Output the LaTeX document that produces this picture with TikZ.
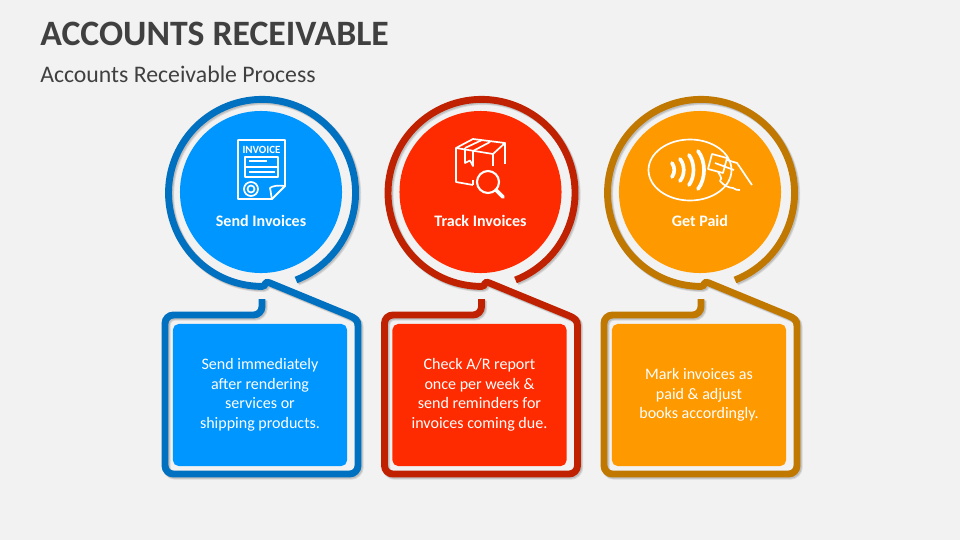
\documentclass[tikz,border=0pt]{standalone}
\usepackage{fontspec}
\setmainfont{Carlito}
\definecolor{pagegray}{HTML}{F2F2F2}
\definecolor{inkgray}{HTML}{404040}
\definecolor{blueface}{HTML}{0096FF}
\definecolor{blueline}{HTML}{0070C0}
\definecolor{redface}{HTML}{FF2B00}
\definecolor{redline}{HTML}{C02100}
\definecolor{orangeface}{HTML}{FF9900}
\definecolor{orangeline}{HTML}{C07800}
\begin{document}
\begin{tikzpicture}
[x=0.025cm,y=-0.025cm,
  discdecorate/.style={shape=circle,inner sep=0pt,minimum size=4.05cm},%
  cardecorate/.style={shape=rectangle,rounded corners=4pt,inner sep=0pt,minimum width=4.35cm,
    minimum height=3.55cm,align=center,text=white,font=\fontsize{11.4pt}{13.9pt}\selectfont},%
  namedecorate/.style={text=white,inner sep=0pt,font=\fontsize{11.4pt}{13pt}\selectfont\bfseries},%
  ringdecorate/.style={line width=4.9pt,
    preaction={draw=black,opacity=0.10,line width=5.6pt,transform canvas={shift={(1.2pt,-1.2pt)}}},
    preaction={draw=black,opacity=0.12,line width=4.9pt,transform canvas={shift={(0.9pt,-0.9pt)}}}},%
  icondecorate/.style={draw=white,line width=1.2pt,line join=round},%
  iconthick/.style={draw=white,line width=2.6pt,line cap=round}]
%%% page and headings
\useasboundingbox [fill=pagegray] (0,0) rectangle (960,540);
\node (title) at (40,34) [anchor=west,inner sep=0pt,text=inkgray,font=\fontsize{25.4pt}{28pt}\selectfont\bfseries] {ACCOUNTS RECEIVABLE};
\node (subtitle) at (40,74) [anchor=west,inner sep=0pt,text=inkgray,font=\fontsize{16.9pt}{20pt}\selectfont] {Accounts Receivable Process};
%
%%% send invoices
% outline
\draw[ringdecorate,draw=blueline] (296,280) arc[start angle=68.7,end angle=-270,radius=93.5]
  .. controls (266.5,286.5) and (263.5,280.5) .. (270,283) -- (349,315.5)
  .. controls (355,318) and (358,320) .. (358,326)
  [rounded corners=6pt] -- (358,474) -- (165,474) -- (165,315) -- (262,315) [sharp corners] -- (262,299);
% disc and card
\node (disca) at (261,192) [discdecorate,fill=blueface] {};
\node (carda) at (260,395) [cardecorate,fill=blueface] {Send immediately\\after rendering\\services or\\shipping products.};
\node (namea) at (261,221) [namedecorate] {Send Invoices};
% icon
\draw[icondecorate,line width=1.4pt] (272,199) -- (238,199) -- (238,140) -- (285,140) -- (285,186) -- cycle;
\draw[icondecorate] (285,186) .. controls (278,185) and (272,186) .. (270,188) .. controls (271,192) and (271,196) .. (272,199);
\draw[icondecorate] (245,157) rectangle (278,177) (245,167) -- (278,167);
\draw[icondecorate] (249,161) -- (267,161) (249,172) -- (275,172);
\draw[icondecorate] (251,189) circle[radius=7] (251,189) circle[radius=3.5];
\node (invoicetag) at (261.5,149.5) [inner sep=0pt,text=white,font=\fontsize{7.8pt}{9pt}\selectfont\bfseries] {INVOICE};
%
%%% track invoices
% outline
\draw[ringdecorate,draw=redline] (515.5,280) arc[start angle=68.7,end angle=-270,radius=93.5]
  .. controls (486,286.5) and (483,280.5) .. (489.5,283) -- (568.5,315.5)
  .. controls (574.5,318) and (577.5,320) .. (577.5,326)
  [rounded corners=6pt] -- (577.5,474) -- (384.5,474) -- (384.5,315) -- (481.5,315) [sharp corners] -- (481.5,299);
% disc and card
\node (discb) at (480.5,192) [discdecorate,fill=redface] {};
\node (cardb) at (479.5,395) [cardecorate,fill=redface] {Check A/R report\\once per week \&\\send reminders for\\invoices coming due.};
\node (nameb) at (480.5,221) [namedecorate] {Track Invoices};
% icon
\draw[icondecorate] (473,185) -- (456,182) -- (456,148) -- (473,139) -- (505,143) -- (493,154) -- (456,148);
\draw[icondecorate] (505,143) -- (505,164) (493,154) -- (493,166) (473,185) -- (473,180);
\draw[icondecorate] (465,148) -- (465,163) -- (470,160.5) -- (473,166) -- (473,151) -- (490,142) (465,148) -- (482,140);
\draw[icondecorate,line width=1.5pt] (488,182) circle[radius=11];
\draw[iconthick] (496,190) -- (503,197);
%
%%% get paid
% outline
\draw[ringdecorate,draw=orangeline] (735,280) arc[start angle=68.7,end angle=-270,radius=93.5]
  .. controls (705.5,286.5) and (702.5,280.5) .. (709,283) -- (788,315.5)
  .. controls (794,318) and (797,320) .. (797,326)
  [rounded corners=6pt] -- (797,474) -- (604,474) -- (604,315) -- (701,315) [sharp corners] -- (701,299);
% disc and card
\node (discc) at (700,192) [discdecorate,fill=orangeface] {};
\node (cardc) at (699,395) [cardecorate,fill=orangeface] {Mark invoices as\\paid \& adjust\\books accordingly.};
\node (namec) at (700,221) [namedecorate] {Get Paid};
% icon
\draw[icondecorate] (690,170) ellipse[x radius=41.5,y radius=30.5];
\draw[iconthick] (672,163) .. controls (675,167) and (675,173) .. (672,177);
\draw[iconthick] (680,159) .. controls (685,165) and (685,175) .. (680,181);
\draw[iconthick] (689,155) .. controls (695,163) and (695,177) .. (689,185);
\draw[iconthick] (698,151) .. controls (706,161) and (706,179) .. (698,189);
\draw[icondecorate,fill=orangeface] (712,154) -- (727,158) -- (723,173) -- (708,169) -- cycle;
\draw[icondecorate] (727,160) -- (737,163) .. controls (742,170) and (747,178) .. (752,185);
\draw[icondecorate] (715,163) -- (734,170) (718,172) .. controls (722,178) and (722,180) .. (720,181)
  .. controls (724,186) and (730,188) .. (733,188) .. controls (735,190) and (738,190) .. (740,190);
\end{tikzpicture}
\end{document}
